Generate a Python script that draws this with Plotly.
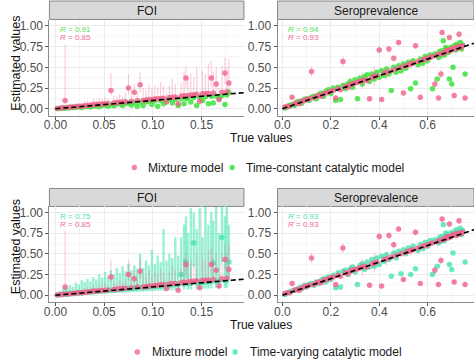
import plotly.graph_objects as go

W, H = 474, 360

# ---------------- data ----------------
foi_true = [0.002, 0.005, 0.008, 0.010, 0.012, 0.015, 0.018, 0.021, 0.024, 0.027,
            0.030, 0.033, 0.036, 0.039, 0.042, 0.045, 0.048, 0.051, 0.054, 0.057,
            0.060, 0.063, 0.066, 0.069, 0.072, 0.075, 0.078, 0.081, 0.084, 0.087,
            0.090, 0.093, 0.096, 0.099, 0.102, 0.105, 0.108, 0.111, 0.114, 0.117,
            0.120, 0.123, 0.126, 0.129, 0.132, 0.134, 0.136, 0.139, 0.142, 0.145,
            0.148, 0.151, 0.154, 0.157, 0.160, 0.162, 0.165, 0.168, 0.171, 0.174,
            0.176, 0.178]

mix_foi_est = [0.004, 0.008, 0.012, 0.100, 0.014, 0.020, 0.022, 0.026, 0.030, 0.031,
               0.036, 0.040, 0.042, 0.050, 0.050, 0.055, 0.058, 0.060, 0.064, 0.220,
               0.070, 0.075, 0.078, 0.080, 0.085, 0.250, 0.090, 0.200, 0.098, 0.290,
               0.100, 0.105, 0.110, 0.112, 0.118, 0.120, 0.125, 0.128, 0.080, 0.135,
               0.140, 0.142, 0.060, 0.150, 0.160, 0.370, 0.160, 0.165, 0.168, 0.175,
               0.090, 0.180, 0.182, 0.185, 0.370, 0.190, 0.300, 0.110, 0.200, 0.430,
               0.205, 0.310]
mix_foi_lo = [0.000, 0.002, 0.004, 0.060, 0.006, 0.010, 0.012, 0.015, 0.018, 0.020,
              0.022, 0.025, 0.030, 0.030, 0.035, 0.040, 0.040, 0.045, 0.048, 0.150,
              0.050, 0.055, 0.060, 0.060, 0.065, 0.170, 0.070, 0.140, 0.075, 0.200,
              0.080, 0.080, 0.085, 0.090, 0.090, 0.095, 0.100, 0.100, 0.050, 0.110,
              0.110, 0.110, 0.030, 0.120, 0.120, 0.250, 0.125, 0.130, 0.130, 0.135,
              0.060, 0.140, 0.145, 0.150, 0.260, 0.150, 0.200, 0.070, 0.160, 0.300,
              0.160, 0.220]
mix_foi_hi = [0.012, 0.020, 0.050, 0.780, 0.040, 0.050, 0.060, 0.060, 0.070, 0.070,
              0.090, 0.100, 0.090, 0.120, 0.100, 0.130, 0.120, 0.140, 0.120, 0.430,
              0.160, 0.140, 0.180, 0.150, 0.200, 0.420, 0.220, 0.300, 0.200, 0.440,
              0.250, 0.220, 0.300, 0.240, 0.280, 0.260, 0.320, 0.270, 0.200, 0.280,
              0.360, 0.300, 0.150, 0.320, 0.450, 0.520, 0.360, 0.420, 0.380, 0.500,
              0.200, 0.460, 0.420, 0.550, 0.580, 0.450, 0.500, 0.250, 0.520, 0.620,
              0.500, 0.600]

tc_foi_est = [0.002, 0.004, 0.006, 0.008, 0.010, 0.012, 0.015, 0.018, 0.020, 0.015,
              0.026, 0.028, 0.020, 0.034, 0.036, 0.025, 0.042, 0.045, 0.030, 0.050,
              0.035, 0.056, 0.060, 0.040, 0.065, 0.070, 0.045, 0.075, 0.030, 0.080,
              0.040, 0.085, 0.090, 0.050, 0.095, 0.030, 0.100, 0.060, 0.105, 0.110,
              0.070, 0.115, 0.040, 0.120, 0.060, 0.125, 0.130, 0.080, 0.135, 0.040,
              0.140, 0.100, 0.145, 0.060, 0.150, 0.070, 0.155, 0.120, 0.160, 0.050,
              0.165, 0.200]

tv_foi_est = [0.003, 0.006, 0.009, 0.012, 0.013, 0.016, 0.020, 0.022, 0.026, 0.028,
              0.032, 0.035, 0.038, 0.040, 0.045, 0.048, 0.050, 0.053, 0.056, 0.060,
              0.062, 0.066, 0.068, 0.072, 0.074, 0.078, 0.080, 0.085, 0.087, 0.090,
              0.093, 0.096, 0.100, 0.102, 0.105, 0.108, 0.110, 0.115, 0.118, 0.120,
              0.125, 0.128, 0.130, 0.250, 0.135, 0.400, 0.140, 0.143, 0.630, 0.150,
              0.152, 0.155, 0.160, 0.162, 0.165, 0.390, 0.170, 0.172, 0.700, 0.178,
              0.180, 0.400]
tv_foi_lo = [0.000, 0.001, 0.002, 0.003, 0.004, 0.005, 0.006, 0.008, 0.010, 0.011,
             0.012, 0.014, 0.015, 0.016, 0.018, 0.020, 0.021, 0.022, 0.024, 0.025,
             0.026, 0.028, 0.030, 0.031, 0.033, 0.035, 0.036, 0.038, 0.040, 0.041,
             0.043, 0.045, 0.047, 0.048, 0.050, 0.052, 0.053, 0.055, 0.057, 0.059,
             0.060, 0.062, 0.064, 0.120, 0.066, 0.200, 0.068, 0.070, 0.350, 0.072,
             0.074, 0.076, 0.078, 0.080, 0.082, 0.200, 0.084, 0.086, 0.400, 0.088,
             0.090, 0.200]
tv_foi_hi = [0.03, 0.05, 0.08, 0.10, 0.09, 0.12, 0.10, 0.15, 0.13, 0.18,
             0.16, 0.20, 0.17, 0.22, 0.19, 0.25, 0.21, 0.28, 0.23, 0.30,
             0.25, 0.33, 0.27, 0.35, 0.29, 0.38, 0.30, 0.36, 0.32, 0.50,
             0.33, 0.42, 0.36, 0.55, 0.38, 0.48, 0.40, 0.80, 0.42, 0.50,
             0.45, 0.70, 0.48, 0.70, 0.85, 0.95, 0.75, 1.05, 1.00, 0.80,
             1.05, 0.70, 1.10, 0.85, 1.00, 0.90, 1.10, 0.75, 1.10, 0.95,
             1.10, 0.85]

sero_true = [0.01, 0.02, 0.03, 0.04, 0.05, 0.06, 0.07, 0.08, 0.09, 0.10,
             0.11, 0.12, 0.13, 0.14, 0.15, 0.16, 0.17, 0.18, 0.19, 0.20,
             0.21, 0.22, 0.23, 0.24, 0.25, 0.26, 0.27, 0.28, 0.29, 0.30,
             0.31, 0.32, 0.33, 0.34, 0.35, 0.36, 0.37, 0.38, 0.39, 0.40,
             0.41, 0.42, 0.43, 0.44, 0.45, 0.46, 0.47, 0.48, 0.49, 0.50,
             0.51, 0.52, 0.53, 0.54, 0.55, 0.56, 0.57, 0.58, 0.59, 0.60,
             0.61, 0.62, 0.63, 0.64, 0.645, 0.65, 0.655, 0.66, 0.665, 0.67,
             0.675, 0.68, 0.685, 0.69, 0.695, 0.70, 0.705, 0.71, 0.715, 0.72,
             0.725, 0.73, 0.735, 0.74, 0.745, 0.755]
mix_sero_est = [0.02, 0.03, 0.03, 0.14, 0.06, 0.07, 0.06, 0.09, 0.10, 0.11,
                0.12, 0.45, 0.13, 0.15, 0.16, 0.15, 0.18, 0.19, 0.20, 0.21,
                0.22, 0.13, 0.24, 0.23, 0.57, 0.27, 0.26, 0.29, 0.30, 0.31,
                0.32, 0.33, 0.34, 0.35, 0.34, 0.12, 0.38, 0.39, 0.40, 0.71,
                0.11, 0.43, 0.44, 0.72, 0.46, 0.61, 0.48, 0.80, 0.50, 0.19,
                0.52, 0.53, 0.54, 0.55, 0.76, 0.57, 0.14, 0.59, 0.60, 0.61,
                0.62, 0.63, 0.30, 0.65, 0.13, 0.66, 0.42, 0.92, 0.67, 0.68,
                0.70, 0.69, 0.71, 0.86, 0.70, 0.72, 0.73, 0.16, 0.74, 0.72,
                0.75, 0.90, 0.74, 0.75, 0.76, 0.13]
mix_sero_err = [0.01, 0.01, 0.01, 0.03, 0.01, 0.01, 0.01, 0.01, 0.01, 0.01,
                0.01, 0.06, 0.01, 0.01, 0.01, 0.01, 0.02, 0.01, 0.01, 0.02,
                0.02, 0.03, 0.02, 0.02, 0.06, 0.02, 0.02, 0.08, 0.02, 0.02,
                0.03, 0.02, 0.10, 0.02, 0.02, 0.03, 0.02, 0.12, 0.02, 0.04,
                0.03, 0.02, 0.08, 0.04, 0.02, 0.04, 0.02, 0.03, 0.02, 0.03,
                0.02, 0.02, 0.06, 0.02, 0.04, 0.02, 0.03, 0.02, 0.02, 0.02,
                0.02, 0.02, 0.05, 0.02, 0.03, 0.02, 0.05, 0.03, 0.02, 0.02,
                0.03, 0.02, 0.02, 0.04, 0.02, 0.02, 0.02, 0.03, 0.02, 0.02,
                0.02, 0.04, 0.02, 0.02, 0.02, 0.03]
tc_sero_est = [0.01, 0.02, 0.04, 0.05, 0.04, 0.08, 0.09, 0.07, 0.11, 0.12,
               0.10, 0.14, 0.15, 0.12, 0.17, 0.19, 0.15, 0.21, 0.23, 0.18,
               0.25, 0.10, 0.26, 0.11, 0.28, 0.24, 0.30, 0.33, 0.26, 0.35,
               0.12, 0.37, 0.30, 0.39, 0.41, 0.33, 0.42, 0.36, 0.44, 0.38,
               0.46, 0.40, 0.48, 0.42, 0.22, 0.50, 0.44, 0.52, 0.46, 0.54,
               0.49, 0.56, 0.24, 0.58, 0.31, 0.53, 0.60, 0.55, 0.63, 0.58,
               0.65, 0.24, 0.66, 0.36, 0.62, 0.69, 0.64, 0.70, 0.82, 0.65,
               0.74, 0.72, 0.68, 0.36, 0.74, 0.30, 0.50, 0.76, 0.71, 0.78,
               0.73, 0.75, 0.80, 0.72, 0.77, 0.42]
tv_sero_est = [0.01, 0.03, 0.04, 0.05, 0.06, 0.07, 0.09, 0.08, 0.12, 0.10,
               0.13, 0.14, 0.12, 0.16, 0.14, 0.18, 0.20, 0.16, 0.22, 0.19,
               0.24, 0.09, 0.27, 0.10, 0.29, 0.30, 0.25, 0.32, 0.34, 0.28,
               0.13, 0.36, 0.38, 0.31, 0.40, 0.34, 0.43, 0.35, 0.45, 0.37,
               0.47, 0.41, 0.49, 0.43, 0.23, 0.51, 0.45, 0.53, 0.26, 0.55,
               0.50, 0.57, 0.25, 0.59, 0.32, 0.54, 0.61, 0.56, 0.64, 0.59,
               0.66, 0.25, 0.67, 0.35, 0.63, 0.70, 0.65, 0.71, 0.85, 0.66,
               0.75, 0.73, 0.69, 0.37, 0.75, 0.31, 0.51, 0.77, 0.72, 0.79,
               0.74, 0.76, 0.81, 0.73, 0.78, 0.40]

panel_titles = ["FOI", "Seroprevalence"]
legend_top = ["Mixture model", "Time-constant catalytic model"]
legend_bottom = ["Mixture model", "Time-varying catalytic model"]
r_top = {"FOI": ("0.91", "0.85"), "Seroprevalence": ("0.94", "0.93")}
r_bottom = {"FOI": ("0.75", "0.85"), "Seroprevalence": ("0.93", "0.93")}
y_ticks = [0, 0.25, 0.5, 0.75, 1.0]
foi_ticks = [0, 0.05, 0.10, 0.15]
sero_ticks = [0, 0.2, 0.4, 0.6]

# ---------------- style ----------------
FONT = "Liberation Sans, Arial, sans-serif"
PINK = "rgba(240,100,140,0.80)"
PINK_E = "rgba(240,100,140,0.32)"
GREEN = "rgba(60,228,60,0.85)"
AQUA = "rgba(70,228,175,0.80)"
AQUA_E = "rgba(70,228,175,0.55)"

def px(x):
    return x / W

def py(y):
    return 1 - y / H

FOI_X = [44, 241]
SERO_X = [275, 474]
TOP_Y = [19, 115]
BOT_Y = [206, 302]
FOI_RANGE = [-0.0061, 0.1935]
SERO_RANGE = [-0.0204, 0.7918]
Y_RANGE = [-0.084, 1.072]

fig = go.Figure()

def err(est, lo, hi):
    return dict(type="data", symmetric=False,
                array=[h - e for e, h in zip(est, hi)],
                arrayminus=[e - l for e, l in zip(est, lo)])

def add_pts(x, y, color, xa, ya, e=None, ecolor=None, ew=1.2):
    kw = {}
    if e is not None:
        e.update(color=ecolor, thickness=ew, width=0)
        kw["error_y"] = e
    fig.add_trace(go.Scatter(x=x, y=y, mode="markers", xaxis=xa, yaxis=ya,
                             marker=dict(size=5.5, color=color, line=dict(width=0)),
                             showlegend=False, hoverinfo="skip", **kw))

# top FOI
add_pts(foi_true, tc_foi_est, GREEN, "x", "y")
add_pts(foi_true, mix_foi_est, PINK, "x", "y", err(mix_foi_est, mix_foi_lo, mix_foi_hi), PINK_E)
# top sero
add_pts(sero_true, tc_sero_est, GREEN, "x2", "y2")
add_pts(sero_true, mix_sero_est, PINK, "x2", "y2",
        dict(type="data", array=mix_sero_err), PINK_E)
# bottom FOI
add_pts(foi_true, tv_foi_est, AQUA, "x3", "y3", err(tv_foi_est, tv_foi_lo, tv_foi_hi), AQUA_E, 2.4)
add_pts(foi_true, mix_foi_est, PINK, "x3", "y3", err(mix_foi_est, mix_foi_lo, mix_foi_hi), PINK_E)
# bottom sero
add_pts(sero_true, tv_sero_est, AQUA, "x4", "y4")
add_pts(sero_true, mix_sero_est, PINK, "x4", "y4",
        dict(type="data", array=mix_sero_err), PINK_E)

def xaxis(dom, rng, ticks, fmt, minor_dtick, anchor):
    return dict(domain=[px(dom[0]), px(dom[1])], range=rng, tickvals=ticks,
                tickformat=fmt, anchor=anchor, showgrid=True, gridcolor="#EBEBEB",
                gridwidth=1, zeroline=False, showline=True, linecolor="#8A8A8A",
                linewidth=1, ticks="outside", ticklen=3, tickcolor="#555",
                ticklabelstandoff=-5,
                tickfont=dict(family=FONT, size=12, color="#4D4D4D"),
                minor=dict(tick0=minor_dtick / 2, dtick=minor_dtick, showgrid=True,
                           gridcolor="#F6F6F6", gridwidth=0.6, ticks=""),
                fixedrange=True)

def yaxis(dom, anchor):
    return dict(domain=[py(dom[1]), py(dom[0])], range=Y_RANGE, tickvals=y_ticks,
                tickformat=".2f", anchor=anchor, showgrid=True, gridcolor="#EBEBEB",
                gridwidth=1, zeroline=False, showline=True, linecolor="#8A8A8A",
                linewidth=1, ticks="outside", ticklen=3, tickcolor="#555",
                tickfont=dict(family=FONT, size=12, color="#4D4D4D"),
                minor=dict(tick0=0.125, dtick=0.25, showgrid=True,
                           gridcolor="#F6F6F6", gridwidth=0.6, ticks=""),
                fixedrange=True)

fig.update_layout(
    xaxis=xaxis(FOI_X, FOI_RANGE, foi_ticks, ".2f", 0.05, "y"),
    xaxis2=xaxis(SERO_X, SERO_RANGE, sero_ticks, ".1f", 0.2, "y2"),
    xaxis3=xaxis(FOI_X, FOI_RANGE, foi_ticks, ".2f", 0.05, "y3"),
    xaxis4=xaxis(SERO_X, SERO_RANGE, sero_ticks, ".1f", 0.2, "y4"),
    yaxis=yaxis(TOP_Y, "x"),
    yaxis2=yaxis(TOP_Y, "x2"),
    yaxis3=yaxis(BOT_Y, "x3"),
    yaxis4=yaxis(BOT_Y, "x4"),
)

shapes = []
annotations = []

# identity dashed lines
for xr, yr, rng in [("x", "y", FOI_RANGE), ("x2", "y2", SERO_RANGE),
                    ("x3", "y3", FOI_RANGE), ("x4", "y4", SERO_RANGE)]:
    shapes.append(dict(type="line", xref=xr, yref=yr, x0=0, y0=0, x1=rng[1], y1=rng[1],
                       line=dict(color="black", width=1.6, dash="5px,3px")))

# strips
for (y0, y1), (fx, sx) in [((0, 18.5), (FOI_X, SERO_X)), ((188, 206), (FOI_X, SERO_X))]:
    for dom, title in [(fx, panel_titles[0]), (sx, panel_titles[1])]:
        shapes.append(dict(type="rect", xref="paper", yref="paper",
                           x0=px(dom[0]), x1=px(dom[1]), y0=py(y1), y1=py(y0),
                           fillcolor="#D9D9D9", line=dict(color="#6E6E6E", width=0.8),
                           layer="below"))
        annotations.append(dict(text=title, xref="paper", yref="paper",
                                x=px((dom[0] + dom[1]) / 2), y=py((y0 + y1) / 2 + 0.5),
                                showarrow=False, xanchor="center", yanchor="middle",
                                font=dict(family=FONT, size=12, color="#1A1A1A")))

# R labels
for rdict, ytop, c1 in [(r_top, 29, "rgb(80,225,80)"), (r_bottom, 216, "rgb(80,225,175)")]:
    for dom, key, xoff in [(FOI_X, "FOI", 53), (SERO_X, "Seroprevalence", 284)]:
        r1, r2 = rdict[key]
        annotations.append(dict(text="<i>R</i> = " + r1, xref="paper", yref="paper",
                                x=px(xoff), y=py(ytop), showarrow=False,
                                xanchor="left", yanchor="middle",
                                font=dict(family=FONT, size=8, color=c1)))
        annotations.append(dict(text="<i>R</i> = " + r2, xref="paper", yref="paper",
                                x=px(xoff), y=py(ytop + 8), showarrow=False,
                                xanchor="left", yanchor="middle",
                                font=dict(family=FONT, size=8, color="rgb(240,110,145)")))

# axis titles
for yc in [62, 246]:
    annotations.append(dict(text="Estimated values", xref="paper", yref="paper",
                            x=px(10), y=py(yc), showarrow=False, textangle=-90,
                            xanchor="center", yanchor="middle",
                            font=dict(family=FONT, size=12.5, color="#111")))
for yc in [137, 325]:
    annotations.append(dict(text="True values", xref="paper", yref="paper",
                            x=px(258), y=py(yc), showarrow=False,
                            xanchor="center", yanchor="middle",
                            font=dict(family=FONT, size=12, color="#111")))

# legends
for labels, yc, xs, c2 in [(legend_top, 167, (130, 142, 229, 241), GREEN),
                           (legend_bottom, 352, (133, 146, 232, 245), AQUA)]:
    for (dx, tx), lab, col in [((xs[0], xs[1]), labels[0], PINK), ((xs[2], xs[3]), labels[1], c2)]:
        shapes.append(dict(type="circle", xref="paper", yref="paper",
                           x0=px(dx - 2.7), x1=px(dx + 2.7), y0=py(yc + 2.7), y1=py(yc - 2.7),
                           fillcolor=col, line=dict(width=0)))
        annotations.append(dict(text=lab, xref="paper", yref="paper", x=px(tx), y=py(yc),
                                showarrow=False, xanchor="left", yanchor="middle",
                                font=dict(family=FONT, size=12, color="#1A1A1A")))

fig.update_layout(width=W, height=H, autosize=False, margin=dict(l=0, r=0, t=0, b=0),
                  paper_bgcolor="white", plot_bgcolor="white",
                  shapes=shapes, annotations=annotations, showlegend=False,
                  font=dict(family=FONT))

fig.write_html("out.html", config={"responsive": False, "displayModeBar": False},
               post_script="document.body.style.margin='0px';")
